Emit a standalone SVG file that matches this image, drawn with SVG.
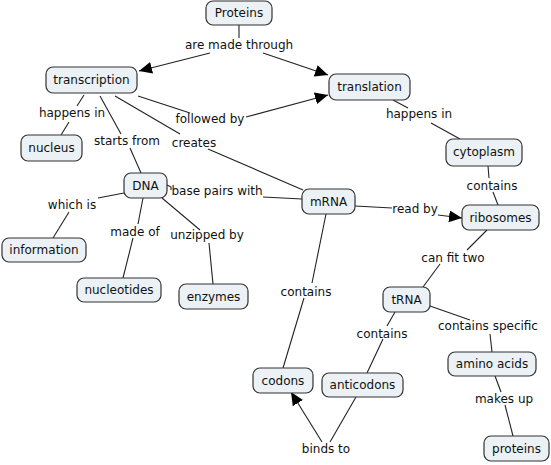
<svg xmlns="http://www.w3.org/2000/svg" width="551" height="465" viewBox="0 0 551 465">
<defs>
<style>
.n rect{fill:#ebf1f4;stroke:#333;stroke-width:1.2}
text{font-family:"DejaVu Sans","Verdana",sans-serif;font-size:12px;fill:#111;text-anchor:middle}
.c line,.c polyline{stroke:#222;stroke-width:1.1;fill:none}
</style>
<marker id="ar" markerUnits="userSpaceOnUse" markerWidth="14" markerHeight="12" refX="13" refY="6" orient="auto">
<path d="M0,0 L13,6 L0,12 Z" fill="#000"/>
</marker>
</defs>
<rect width="551" height="465" fill="#fff"/>
<g class="c" id="connectors">
<line x1="239" y1="25" x2="239" y2="38"/>
<line x1="210" y1="53" x2="139" y2="71" marker-end="url(#ar)"/>
<line x1="263" y1="53" x2="328" y2="75" marker-end="url(#ar)"/>
<line x1="138" y1="96" x2="190" y2="113"/>
<line x1="246" y1="117" x2="328" y2="95" marker-end="url(#ar)"/>
<line x1="84" y1="95" x2="77" y2="106"/>
<line x1="69" y1="122" x2="61" y2="135"/>
<line x1="100" y1="96" x2="121" y2="134"/>
<line x1="130" y1="148" x2="141" y2="173"/>
<line x1="115" y1="96" x2="180" y2="134"/>
<line x1="208" y1="149" x2="303" y2="190"/>
<polyline points="167,185 171,187 171,190"/>
<line x1="263" y1="197" x2="302" y2="199"/>
<line x1="124" y1="193" x2="98" y2="198"/>
<line x1="69" y1="212" x2="53" y2="238"/>
<line x1="143" y1="198" x2="138" y2="224"/>
<line x1="133" y1="238" x2="123" y2="278"/>
<line x1="162" y1="198" x2="200" y2="230"/>
<line x1="209" y1="243" x2="213" y2="284"/>
<line x1="355" y1="206" x2="392" y2="208"/>
<line x1="438" y1="215" x2="462" y2="218" marker-end="url(#ar)"/>
<line x1="393" y1="100" x2="408" y2="108"/>
<line x1="431" y1="123" x2="460" y2="139"/>
<line x1="488" y1="166" x2="489" y2="178"/>
<line x1="493" y1="192" x2="498" y2="205"/>
<line x1="487" y1="230" x2="467" y2="250"/>
<line x1="440" y1="264" x2="423" y2="287"/>
<line x1="326" y1="214" x2="312" y2="283"/>
<line x1="304" y1="298" x2="283" y2="368"/>
<line x1="395" y1="312" x2="387" y2="326"/>
<line x1="383" y1="339" x2="367" y2="373"/>
<line x1="430" y1="306" x2="470" y2="320"/>
<line x1="490" y1="334" x2="492" y2="352"/>
<line x1="495" y1="376" x2="501" y2="392"/>
<line x1="505" y1="405" x2="513" y2="436"/>
<line x1="356" y1="397" x2="330" y2="442"/>
<line x1="322" y1="442" x2="291" y2="392" marker-end="url(#ar)"/>
</g>
<g id="labels">
<text x="239" y="49">are made through</text>
<text x="72" y="117">happens in</text>
<text x="127" y="145">starts from</text>
<text x="210" y="123">followed by</text>
<text x="194" y="147">creates</text>
<text x="419" y="118">happens in</text>
<text x="492" y="190">contains</text>
<text x="72" y="209">which is</text>
<text x="217" y="195">base pairs with</text>
<text x="135" y="236">made of</text>
<text x="207" y="239">unzipped by</text>
<text x="415" y="213">read by</text>
<text x="453" y="262">can fit two</text>
<text x="306" y="296">contains</text>
<text x="382" y="338">contains</text>
<text x="488" y="330">contains specific</text>
<text x="504" y="403">makes up</text>
<text x="326" y="453">binds to</text>
</g>
<g id="n-proteins-top" class="n"><rect x="206" y="1" width="66" height="24" rx="7"/><text x="239" y="17">Proteins</text></g>
<g id="n-transcription" class="n"><rect x="46" y="67" width="91" height="26" rx="7"/><text x="91.5" y="84">transcription</text></g>
<g id="n-nucleus" class="n"><rect x="21" y="135" width="61" height="26" rx="7"/><text x="51.5" y="152">nucleus</text></g>
<g id="n-translation" class="n"><rect x="329" y="74" width="81" height="26" rx="7"/><text x="369.5" y="91">translation</text></g>
<g id="n-cytoplasm" class="n"><rect x="446" y="139" width="76" height="27" rx="7"/><text x="484" y="156">cytoplasm</text></g>
<g id="n-dna" class="n"><rect x="124" y="173" width="43" height="25" rx="7"/><text x="145.5" y="190">DNA</text></g>
<g id="n-information" class="n"><rect x="2" y="238" width="84" height="24" rx="7"/><text x="44" y="254">information</text></g>
<g id="n-nucleotides" class="n"><rect x="77" y="278" width="84" height="24" rx="7"/><text x="119" y="294">nucleotides</text></g>
<g id="n-enzymes" class="n"><rect x="179" y="284" width="69" height="25" rx="7"/><text x="213.5" y="301">enzymes</text></g>
<g id="n-mrna" class="n"><rect x="302" y="189" width="53" height="25" rx="7"/><text x="328.5" y="206">mRNA</text></g>
<g id="n-ribosomes" class="n"><rect x="462" y="205" width="77" height="25" rx="7"/><text x="500.5" y="222">ribosomes</text></g>
<g id="n-trna" class="n"><rect x="383" y="287" width="47" height="25" rx="7"/><text x="406.5" y="304">tRNA</text></g>
<g id="n-codons" class="n"><rect x="253" y="368" width="60" height="25" rx="7"/><text x="283" y="385">codons</text></g>
<g id="n-anticodons" class="n"><rect x="322" y="373" width="81" height="24" rx="7"/><text x="362.5" y="389">anticodons</text></g>
<g id="n-aminoacids" class="n"><rect x="448" y="352" width="88" height="24" rx="7"/><text x="492" y="368">amino acids</text></g>
<g id="n-proteins" class="n"><rect x="484" y="436" width="65" height="25" rx="7"/><text x="516.5" y="453">proteins</text></g>
</svg>
